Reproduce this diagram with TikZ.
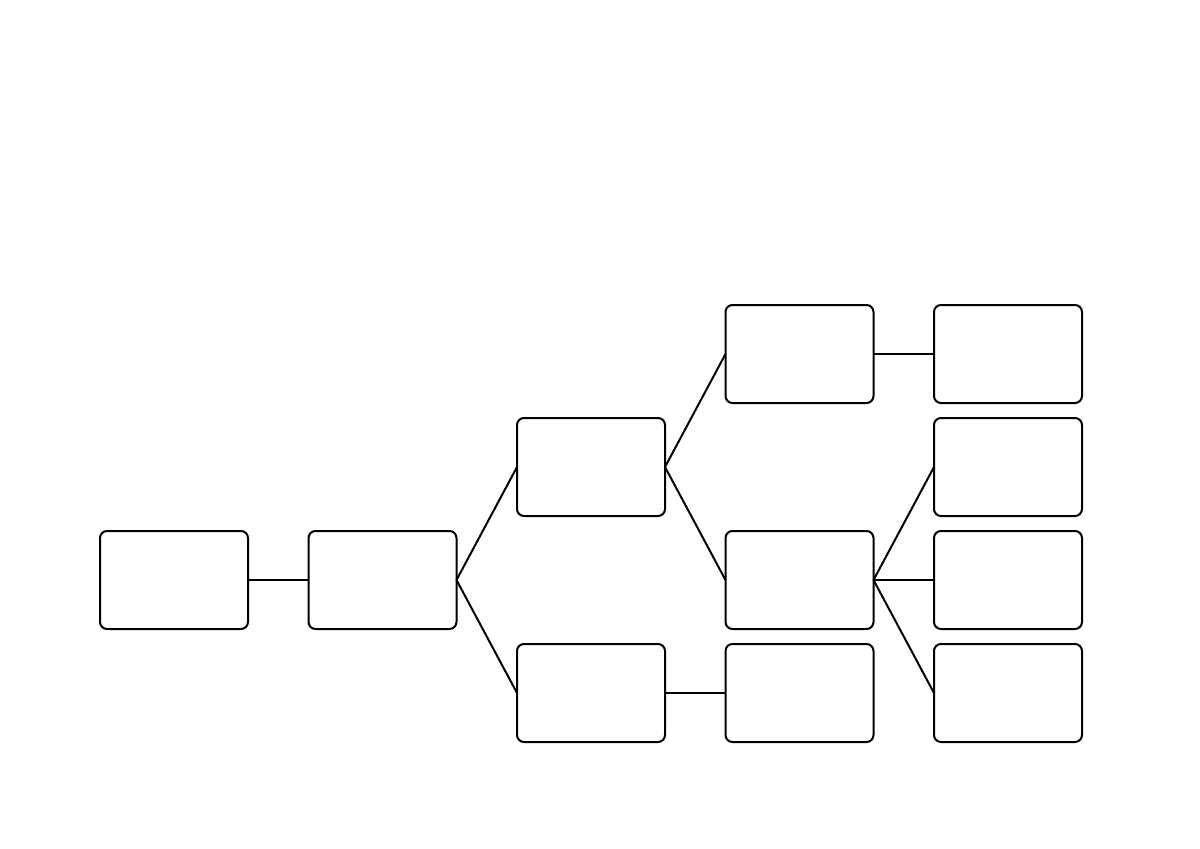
\documentclass[tikz,border=0pt]{standalone}
\begin{document}
\begin{tikzpicture}[x=1pt,y=-1pt,
  box/.style={draw=black,line width=2pt,rounded corners=7pt,minimum width=148pt,minimum height=98pt,inner sep=0pt,outer sep=0pt},
  link/.style={draw=black,line width=2pt}]
\useasboundingbox (0,0) rectangle (1200,849);
\node[box] (a) at (174,580) {};
\node[box] (b) at (382.5,580) {};
\node[box] (c1) at (591,467) {};
\node[box] (c2) at (591,693) {};
\node[box] (d1) at (799.5,354) {};
\node[box] (d2) at (799.5,580) {};
\node[box] (d3) at (799.5,693) {};
\node[box] (e1) at (1008,354) {};
\node[box] (e2) at (1008,467) {};
\node[box] (e3) at (1008,580) {};
\node[box] (e4) at (1008,693) {};
\draw[link] (a.east) -- (b.west);
\draw[link] (b.east) -- (c1.west);
\draw[link] (b.east) -- (c2.west);
\draw[link] (c1.east) -- (d1.west);
\draw[link] (c1.east) -- (d2.west);
\draw[link] (c2.east) -- (d3.west);
\draw[link] (d1.east) -- (e1.west);
\draw[link] (d2.east) -- (e2.west);
\draw[link] (d2.east) -- (e3.west);
\draw[link] (d2.east) -- (e4.west);
\end{tikzpicture}
\end{document}
